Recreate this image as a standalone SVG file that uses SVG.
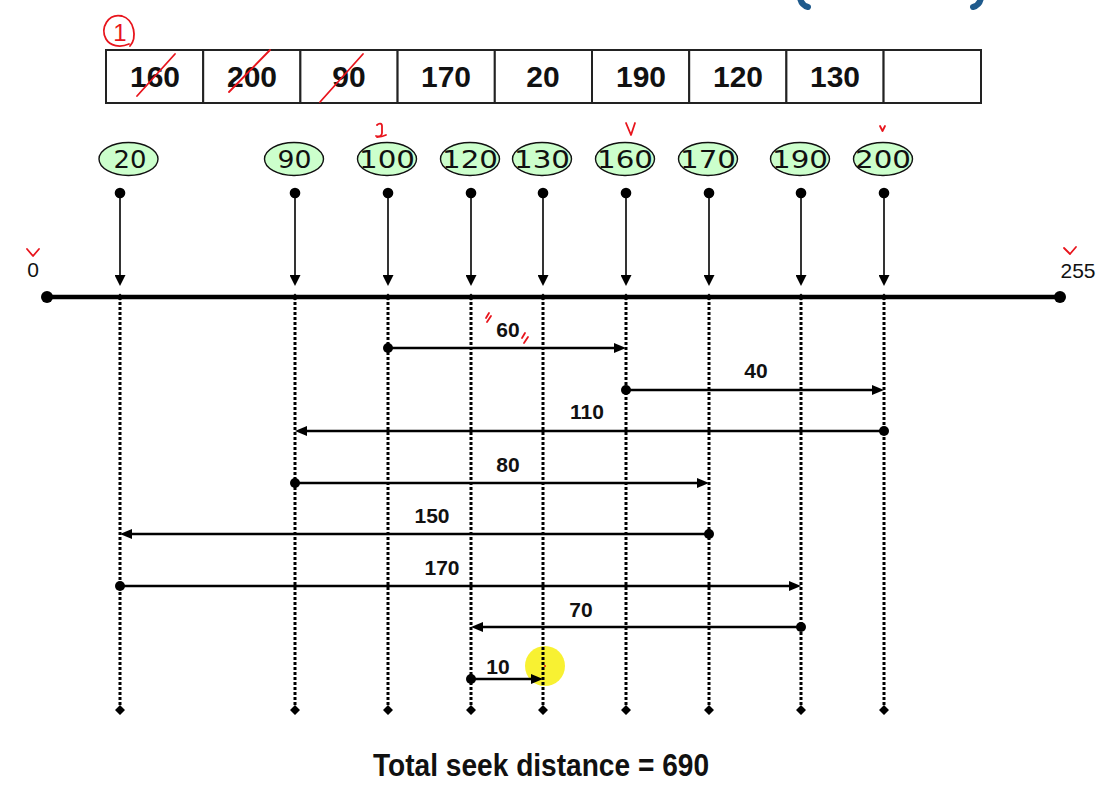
<svg xmlns="http://www.w3.org/2000/svg" width="1114" height="790" viewBox="0 0 1114 790">
<defs>
<style>
.cell{fill:#fff;stroke:#222;stroke-width:2}
.cellt{font-family:"Liberation Sans",Arial,sans-serif;font-weight:bold;font-size:30px;fill:#111;text-anchor:middle}
.ell{fill:#ccffcc;stroke:#111;stroke-width:1.4}
.ellt{font-family:"DejaVu Sans","Liberation Sans",sans-serif;font-size:25px;fill:#111;text-anchor:middle}
.axl{font-family:"Liberation Sans",Arial,sans-serif;font-size:21px;fill:#111;text-anchor:middle}
.lbl{font-family:"Liberation Sans",Arial,sans-serif;font-weight:bold;font-size:21px;fill:#111;text-anchor:middle}
.vline{stroke:#000;stroke-width:1.6}
.hline{stroke:#000;stroke-width:2.4}
.dot{stroke:#000;stroke-width:3;stroke-dasharray:3 2;fill:none}
.red{stroke:#e8141c;stroke-width:1.8;fill:none;stroke-linecap:round;stroke-linejoin:round}
</style>
<marker id="ah" markerUnits="userSpaceOnUse" markerWidth="12" markerHeight="10" refX="2" refY="5" orient="auto">
<path d="M0,0 L12,5 L0,10 z" fill="#000"/>
</marker>
<marker id="av" markerUnits="userSpaceOnUse" markerWidth="11" markerHeight="11" refX="2" refY="5.5" orient="auto">
<path d="M0,0 L11,5.5 L0,11 z" fill="#000"/>
</marker>
</defs>
<rect width="1114" height="790" fill="#fff"/>

<!-- fragments of the cut-off title brackets -->
<path d="M800,-2 C801,3 804,6 808,7" stroke="#1f5a8c" stroke-width="6" fill="none" stroke-linecap="round"/>
<path d="M981,-2 C980,3 977,6 973,7" stroke="#1f5a8c" stroke-width="6" fill="none" stroke-linecap="round"/>

<!-- request queue -->
<g id="queue">
<rect class="cell" x="106" y="50" width="97.2" height="53"/>
<rect class="cell" x="203.2" y="50" width="97.2" height="53"/>
<rect class="cell" x="300.4" y="50" width="97.2" height="53"/>
<rect class="cell" x="397.6" y="50" width="97.2" height="53"/>
<rect class="cell" x="494.8" y="50" width="97.2" height="53"/>
<rect class="cell" x="592" y="50" width="97.2" height="53"/>
<rect class="cell" x="689.2" y="50" width="97.2" height="53"/>
<rect class="cell" x="786.4" y="50" width="97.2" height="53"/>
<rect class="cell" x="883.6" y="50" width="97.4" height="53"/>
<text class="cellt" x="155" y="87">160</text>
<text class="cellt" x="252" y="87">200</text>
<text class="cellt" x="349" y="87">90</text>
<text class="cellt" x="446" y="87">170</text>
<text class="cellt" x="543" y="87">20</text>
<text class="cellt" x="641" y="87">190</text>
<text class="cellt" x="738" y="87">120</text>
<text class="cellt" x="835" y="87">130</text>
</g>

<!-- yellow cursor highlight -->
<circle cx="545" cy="666" r="20" fill="#f7f01c" opacity="0.9"/>
<circle cx="545" cy="666" r="1" fill="#e8141c"/>

<!-- connectors -->
<g id="connectors">
<line x1="47" y1="297" x2="1060" y2="297" stroke="#000" stroke-width="4.5"/>
<circle cx="47" cy="297" r="6" fill="#000"/>
<circle cx="1060" cy="297" r="6" fill="#000"/>
<g class="dot">
<line x1="120" y1="297" x2="120" y2="710"/>
<line x1="295" y1="297" x2="295" y2="710"/>
<line x1="388" y1="297" x2="388" y2="710"/>
<line x1="471" y1="297" x2="471" y2="710"/>
<line x1="543" y1="297" x2="543" y2="710"/>
<line x1="626" y1="297" x2="626" y2="710"/>
<line x1="709" y1="297" x2="709" y2="710"/>
<line x1="801" y1="297" x2="801" y2="710"/>
<line x1="884" y1="297" x2="884" y2="710"/>
</g>
<g fill="#000">
<path d="M120,293.5 l3.5,3.5 l-3.5,3.5 l-3.5,-3.5z M295,293.5 l3.5,3.5 l-3.5,3.5 l-3.5,-3.5z M388,293.5 l3.5,3.5 l-3.5,3.5 l-3.5,-3.5z M471,293.5 l3.5,3.5 l-3.5,3.5 l-3.5,-3.5z M543,293.5 l3.5,3.5 l-3.5,3.5 l-3.5,-3.5z M626,293.5 l3.5,3.5 l-3.5,3.5 l-3.5,-3.5z M709,293.5 l3.5,3.5 l-3.5,3.5 l-3.5,-3.5z M801,293.5 l3.5,3.5 l-3.5,3.5 l-3.5,-3.5z M884,293.5 l3.5,3.5 l-3.5,3.5 l-3.5,-3.5z"/>
<path d="M120,705 l5,5 l-5,5 l-5,-5z M295,705 l5,5 l-5,5 l-5,-5z M388,705 l5,5 l-5,5 l-5,-5z M471,705 l5,5 l-5,5 l-5,-5z M543,705 l5,5 l-5,5 l-5,-5z M626,705 l5,5 l-5,5 l-5,-5z M709,705 l5,5 l-5,5 l-5,-5z M801,705 l5,5 l-5,5 l-5,-5z M884,705 l5,5 l-5,5 l-5,-5z"/>
</g>
<g class="vline" marker-end="url(#av)">
<line x1="120" y1="193" x2="120" y2="277"/>
<line x1="295" y1="193" x2="295" y2="277"/>
<line x1="388" y1="193" x2="388" y2="277"/>
<line x1="471" y1="193" x2="471" y2="277"/>
<line x1="543" y1="193" x2="543" y2="277"/>
<line x1="626" y1="193" x2="626" y2="277"/>
<line x1="709" y1="193" x2="709" y2="277"/>
<line x1="801" y1="193" x2="801" y2="277"/>
<line x1="884" y1="193" x2="884" y2="277"/>
</g>
<g fill="#000">
<circle cx="120" cy="193" r="5.3"/>
<circle cx="295" cy="193" r="5.3"/>
<circle cx="388" cy="193" r="5.3"/>
<circle cx="471" cy="193" r="5.3"/>
<circle cx="543" cy="193" r="5.3"/>
<circle cx="626" cy="193" r="5.3"/>
<circle cx="709" cy="193" r="5.3"/>
<circle cx="801" cy="193" r="5.3"/>
<circle cx="884" cy="193" r="5.3"/>
</g>
<g class="hline" marker-end="url(#ah)">
<line x1="388" y1="348" x2="616" y2="348"/>
<line x1="626" y1="390" x2="874" y2="390"/>
<line x1="884" y1="431" x2="305" y2="431"/>
<line x1="295" y1="483" x2="699" y2="483"/>
<line x1="709" y1="534" x2="130" y2="534"/>
<line x1="120" y1="586" x2="791" y2="586"/>
<line x1="801" y1="627" x2="481" y2="627"/>
<line x1="471" y1="679" x2="533" y2="679"/>
</g>
<g fill="#000">
<circle cx="388" cy="348" r="5"/>
<circle cx="626" cy="390" r="5"/>
<circle cx="884" cy="431" r="5"/>
<circle cx="295" cy="483" r="5"/>
<circle cx="709" cy="534" r="5"/>
<circle cx="120" cy="586" r="5"/>
<circle cx="801" cy="627" r="5"/>
<circle cx="471" cy="679" r="5"/>
</g>
<text class="lbl" x="508" y="337">60</text>
<text class="lbl" x="756" y="378">40</text>
<text class="lbl" x="587" y="419">110</text>
<text class="lbl" x="508" y="472">80</text>
<text class="lbl" x="432" y="523">150</text>
<text class="lbl" x="442" y="575">170</text>
<text class="lbl" x="581" y="617">70</text>
<text class="lbl" x="498" y="674">10</text>
</g>

<text class="axl" x="33" y="277">0</text>
<text class="axl" x="1078" y="278">255</text>

<!-- request nodes -->
<g id="n20"><ellipse class="ell" cx="128.5" cy="159" rx="29.5" ry="16.5"/><text class="ellt" x="130" y="168" textLength="33" lengthAdjust="spacingAndGlyphs">20</text></g>
<g id="n90"><ellipse class="ell" cx="294" cy="159" rx="29.5" ry="16.5"/><text class="ellt" x="294.5" y="168" textLength="34" lengthAdjust="spacingAndGlyphs">90</text></g>
<g id="n100"><ellipse class="ell" cx="387" cy="159" rx="29.5" ry="16.5"/><text class="ellt" x="387" y="168" textLength="56" lengthAdjust="spacingAndGlyphs">100</text></g>
<g id="n120"><ellipse class="ell" cx="470" cy="159" rx="29.5" ry="16.5"/><text class="ellt" x="470" y="168" textLength="56" lengthAdjust="spacingAndGlyphs">120</text></g>
<g id="n130"><ellipse class="ell" cx="542" cy="159" rx="29.5" ry="16.5"/><text class="ellt" x="542" y="168" textLength="56" lengthAdjust="spacingAndGlyphs">130</text></g>
<g id="n160"><ellipse class="ell" cx="625" cy="159" rx="29.5" ry="16.5"/><text class="ellt" x="625" y="168" textLength="56" lengthAdjust="spacingAndGlyphs">160</text></g>
<g id="n170"><ellipse class="ell" cx="708" cy="159" rx="29.5" ry="16.5"/><text class="ellt" x="708" y="168" textLength="56" lengthAdjust="spacingAndGlyphs">170</text></g>
<g id="n190"><ellipse class="ell" cx="800" cy="159" rx="29.5" ry="16.5"/><text class="ellt" x="800" y="168" textLength="56" lengthAdjust="spacingAndGlyphs">190</text></g>
<g id="n200"><ellipse class="ell" cx="883" cy="159" rx="29.5" ry="16.5"/><text class="ellt" x="883" y="168" textLength="56" lengthAdjust="spacingAndGlyphs">200</text></g>

<text x="541" y="776" font-family="Liberation Sans,Arial,sans-serif" font-weight="bold" font-size="32" fill="#111" text-anchor="middle" textLength="336" lengthAdjust="spacingAndGlyphs">Total seek distance = 690</text>

<!-- red handwritten annotations -->
<g id="annotations">
<path class="red" d="M130,46 C137,38 135,20 122,16 C108,13 100,28 106,39 C110,46 120,48 129,44"/>
<text x="120" y="41" font-family="Liberation Sans,Arial,sans-serif" font-size="24" fill="#e8141c" text-anchor="middle">1</text>
<line class="red" x1="137" y1="96" x2="175" y2="54"/>
<line class="red" x1="229" y1="92" x2="270" y2="50"/>
<line class="red" x1="320" y1="102" x2="363" y2="54"/>
<path class="red" d="M377,125 C379,123 382,123 382,126 L382,133 C382,136 379,137 376,136 M377,137 C380,137 384,136 386,135"/>
<path class="red" d="M626,123 L631,135 L635,123" stroke-width="2.4"/>
<path class="red" d="M880,126 L882.5,131 L885,126"/>
<path class="red" d="M27,249 L33,256 L39,249"/>
<path class="red" d="M1064,248 L1070,254 L1076,247"/>
<path class="red" d="M486,318 L489,313 M487,322 L491,316"/>
<path class="red" d="M522,338 L525,333 M524,343 L528,337"/>
</g>
</svg>
